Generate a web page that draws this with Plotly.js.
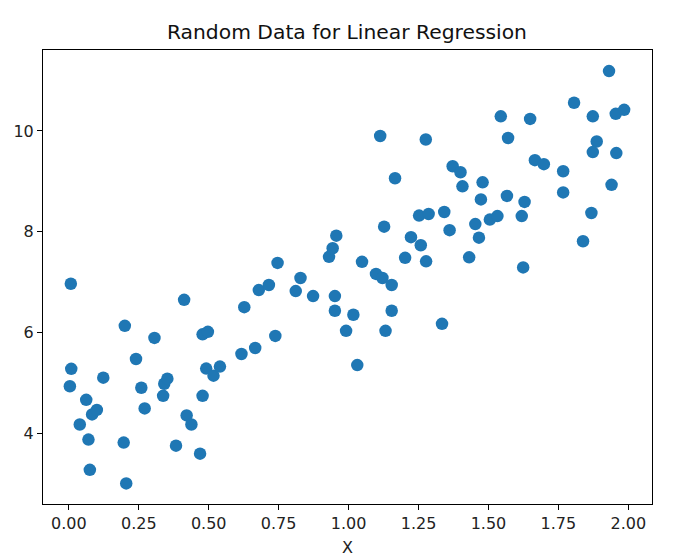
<!DOCTYPE html>
<html>
<head>
<meta charset="utf-8">
<script src="https://cdn.plot.ly/plotly-3.0.1.min.js"></script>
<style>
  html, body { margin: 0; padding: 0; background: #fff; }
  #chart { width: 683px; height: 560px; }
</style>
</head>
<body>
<div id="chart"></div>
<script>
/* random points, left to right roughly */
var xValues = [
    0.007, 0.200, 0.412, 0.0085, 0.0036, 0.123, 0.062, 0.039, 0.083, 0.100,
    0.070, 0.075, 0.196, 0.205, 0.240, 0.259, 0.271, 0.306, 0.337, 0.341,
    0.352, 0.383, 0.421, 0.438, 0.469, 0.478, 0.478, 0.497, 0.491, 0.517,
    0.540, 0.627, 0.617, 0.666, 0.679, 0.715, 0.738, 0.746, 0.811, 0.828,
    0.873, 0.930, 0.943, 0.956, 0.951, 0.951, 0.991, 1.017, 1.031, 1.048,
    1.127, 1.098, 1.121, 1.154, 1.154, 1.132, 1.202, 1.223, 1.258, 1.277,
    1.334, 1.113, 1.276, 1.166, 1.252, 1.286, 1.342, 1.931, 1.806, 1.544,
    1.649, 1.873, 1.955, 1.985, 1.570, 1.887, 1.873, 1.957, 1.666, 1.698,
    1.372, 1.400, 1.767, 1.407, 1.479, 1.566, 1.473, 1.629, 1.767, 1.940,
    1.361, 1.453, 1.466, 1.505, 1.532, 1.619, 1.868, 1.838, 1.431, 1.624
];
var yValues = [
    6.965, 6.13, 6.646, 5.276, 4.93, 5.10, 4.66, 4.17, 4.37, 4.46,
    3.87, 3.27, 3.81, 3.00, 5.47, 4.90, 4.49, 5.89, 4.74, 4.98,
    5.08, 3.75, 4.35, 4.17, 3.59, 4.74, 5.96, 6.01, 5.28, 5.14,
    5.32, 6.50, 5.57, 5.69, 6.84, 6.94, 5.93, 7.38, 6.82, 7.08,
    6.72, 7.50, 7.67, 7.92, 6.72, 6.43, 6.03, 6.35, 5.35, 7.40,
    8.10, 7.16, 7.08, 6.94, 6.43, 6.03, 7.48, 7.89, 7.73, 7.41,
    6.17, 9.90, 9.83, 9.06, 8.32, 8.35, 8.39, 11.19, 10.56, 10.29,
    10.24, 10.29, 10.34, 10.42, 9.86, 9.79, 9.58, 9.56, 9.42, 9.34,
    9.30, 9.18, 9.20, 8.90, 8.98, 8.71, 8.64, 8.59, 8.78, 8.93,
    8.03, 8.15, 7.88, 8.24, 8.31, 8.31, 8.37, 7.81, 7.49, 7.29
];

var chartTitle = 'Random Data for Linear Regression';
var xLabel = 'X';

var trace = {
    x: xValues,
    y: yValues,
    mode: 'markers',
    type: 'scatter',
    marker: { color: '#1f77b4', size: 12.5, line: { width: 0 } },
    hoverinfo: 'x+y'
};

var axisStyle = {
    showline: true,
    mirror: true,
    linecolor: '#000',
    linewidth: 1,
    showgrid: false,
    zeroline: false,
    ticks: 'outside',
    ticklen: 5,
    tickwidth: 1,
    tickcolor: '#000',
    tickfont: { family: 'DejaVu Sans', size: 16, color: '#222' }
};

var layout = {
    width: 683,
    height: 560,
    margin: { l: 43, r: 31, t: 50, b: 56, pad: 0 },
    paper_bgcolor: '#fff',
    plot_bgcolor: '#fff',
    showlegend: false,
    title: {
        text: chartTitle,
        font: { family: 'DejaVu Sans', size: 20.3, color: '#111' },
        x: 0.508, xanchor: 'center',
        y: 0.943, yanchor: 'middle'
    },
    xaxis: Object.assign({}, axisStyle, {
        range: [-0.0925, 2.0846],
        tick0: 0, dtick: 0.25, tickformat: '.2f',
        title: { text: xLabel, font: { family: 'DejaVu Sans', size: 16, color: '#222' }, standoff: 9 }
    }),
    yaxis: Object.assign({}, axisStyle, {
        range: [2.591, 11.608],
        tick0: 0, dtick: 2
    })
};

Plotly.newPlot('chart', [trace], layout, { displayModeBar: false, staticPlot: true });
</script>
</body>
</html>
